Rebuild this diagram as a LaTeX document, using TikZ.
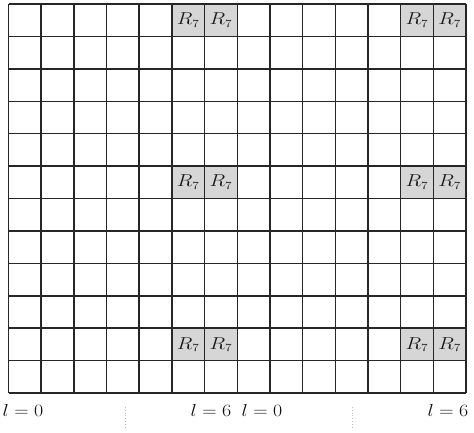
\documentclass[tikz,border=0pt]{standalone}
\begin{document}
\begin{tikzpicture}[x=1pt,y=-1pt,
  gridline/.style={line width=1.5pt,draw=black!85},
  shade/.style={fill=black!16},
  rlabel/.style={font=\fontsize{16}{16}\selectfont,text=black!90,inner sep=0pt,xscale=1.2},
  llabel/.style={font=\fontsize{17}{17}\selectfont,text=black!95,inner sep=0pt,xscale=1.15},
  faint/.style={draw=black!25,line width=0.8pt,dotted}]
\useasboundingbox (0,0) rectangle (474,432);
\def\xa{8.5}\def\ya{4}\def\cw{32.68}\def\rh{32.42}
% shaded cells with labels
\foreach \r in {0,5,10}{
  \foreach \c in {5,6,12,13}{
    \fill[shade] ({\xa+\c*\cw},{\ya+\r*\rh}) rectangle ({\xa+(\c+1)*\cw},{\ya+(\r+1)*\rh});
    \node[rlabel] (r\r c\c) at ({\xa+(\c+0.5)*\cw},{\ya+(\r+0.5)*\rh}) {$R_7$};
  }
}
% grid lines
\foreach \i in {0,...,14}{
  \draw[gridline] ({\xa+\i*\cw},\ya) -- ({\xa+\i*\cw},{\ya+12*\rh});
}
\foreach \j in {0,...,12}{
  \draw[gridline] (\xa,{\ya+\j*\rh}) -- ({\xa+14*\cw},{\ya+\j*\rh});
}
% bottom labels
\node[llabel] (la) at (23,410) {$l=0$};
\node[llabel] (lb) at (211,410) {$l=6$};
\node[llabel] (lc) at (262,410) {$l=0$};
\node[llabel] (ld) at (448,410) {$l=6$};
\coordinate (d1a) at (125,407); \coordinate (d1b) at (125,429);
\coordinate (d2a) at (352,407); \coordinate (d2b) at (352,429);
\draw[faint] (d1a) -- (d1b);
\draw[faint] (d2a) -- (d2b);
\end{tikzpicture}
\end{document}
